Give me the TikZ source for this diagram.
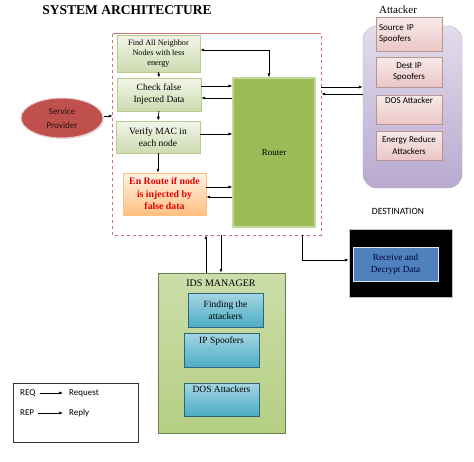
\documentclass[tikz,border=0pt]{standalone}
\usepackage{fontspec}
\setmainfont{Liberation Serif}
\newfontfamily\calfont{Carlito}
\usetikzlibrary{arrows.meta,shadows,shapes.geometric}
\definecolor{gbord}{HTML}{B9CC8E}
\definecolor{router}{HTML}{9BBB59}
\definecolor{spred}{HTML}{C0504D}
\definecolor{purp}{HTML}{B8A9CF}
\definecolor{pinkb}{HTML}{E6B9B8}
\definecolor{blueb}{HTML}{4F81BD}
\definecolor{idsg}{HTML}{B5CF84}
\definecolor{cyanb}{HTML}{4BACC6}
\tikzset{
  gbox/.style={draw=gbord, top color=white!80!gbord, bottom color=gbord!70, align=center, inner sep=1pt, drop shadow={opacity=0.25,shadow xshift=1pt,shadow yshift=-1pt}},
  pbox/.style={draw=pinkb!80!black, top color=white!70!pinkb, bottom color=pinkb!80, align=center, inner sep=1pt, font=\calfont\fontsize{9}{11.5}\selectfont, drop shadow={opacity=0.25,shadow xshift=1pt,shadow yshift=-1pt}},
  cbox/.style={draw=cyanb!60!black, top color=cyanb!50, bottom color=cyanb, align=center, inner sep=1pt, font=\fontsize{9.5}{11.5}\selectfont, drop shadow={opacity=0.3,shadow xshift=1pt,shadow yshift=-1pt}},
  lgd/.style={anchor=west, font=\calfont\fontsize{9}{10}\selectfont, inner sep=1pt},
  arr/.style={-{Latex[length=4pt,width=3pt]}, line width=0.7pt},
  darr/.style={{Latex[length=4pt,width=3pt]}-{Latex[length=4pt,width=3pt]}, line width=0.7pt},
}
\begin{document}
\begin{tikzpicture}[x=1pt,y=-1pt]
\useasboundingbox (0,0) rectangle (474,461);
% title
\node[font=\bfseries\fontsize{13.5}{15}\selectfont] (title) at (127,10) {SYSTEM ARCHITECTURE};
% system dashed box
\node[minimum width=208pt, minimum height=201pt, inner sep=0pt] (sys) at (217,134.5) {};
\draw[spred!80, dashed, line width=0.7pt] (sys.north west) -- (sys.south west) -- (sys.south east) -- (sys.north east);
\draw[spred!80, line width=1.2pt] (sys.north west) -- (sys.north east);
% inner boxes
\node[gbox, minimum width=83pt, minimum height=37pt, font=\fontsize{8.2}{10}\selectfont] (find) at (158.5,53.5) {Find All Neighbor\\Nodes with less\\energy};
\node[gbox, minimum width=84pt, minimum height=33pt, font=\fontsize{9.5}{12}\selectfont] (check) at (159,94.5) {Check false\\Injected Data};
\node[gbox, minimum width=84pt, minimum height=32pt, font=\fontsize{9.5}{12.5}\selectfont] (verify) at (158,137) {Verify MAC in\\each node};
\node[draw=orange!50, top color=orange!10, bottom color=orange!50, align=center, inner sep=1pt, minimum width=83pt, minimum height=42pt, font=\bfseries\fontsize{9.8}{12.5}\selectfont, text=red!90!black, drop shadow={opacity=0.25,shadow xshift=1pt,shadow yshift=-1pt}] (enroute) at (164.5,194) {En Route if node\\is injected by\\false data};
\node[draw=router!60, fill=router, line width=1.2pt, minimum width=82pt, minimum height=149pt, font=\fontsize{9}{10}\selectfont, drop shadow={opacity=0.25,shadow xshift=1pt,shadow yshift=-1pt}] (router) at (274,152.5) {Router};
% service provider
\node[ellipse, draw=white!70!spred, line width=1pt, fill=spred, minimum width=82pt, minimum height=40pt, inner sep=0pt, align=center, font=\calfont\fontsize{9}{14}\selectfont, text=black!80!spred, drop shadow={opacity=0.25,shadow xshift=1pt,shadow yshift=-1pt}] (sp) at (62,118) {Service\\Provider};
\draw[arr] (sp.east |- 0,116) -- (sys.west |- 0,116);
% vertical arrows
\draw[arr] (find.south) -- (check.north);
\draw[arr] (check.south) -- (verify.north);
\draw[arr] (verify.south) -- (enroute.north -| verify.south);
% router arrows
\draw[darr] (find.east |- 0,50) -| (router.north -| 269,0);
\draw[arr] (check.east |- 0,86) -- (router.west |- 0,86);
\draw[arr] (router.west |- 0,98) -- (check.east |- 0,98);
\draw[arr] (verify.east |- 0,134) -- (router.west |- 0,134);
\draw[arr] (enroute.east |- 0,187) -- (router.west |- 0,187);
\draw[arr] (router.west |- 0,197) -- (enroute.east |- 0,197);
% attacker
\node[font=\fontsize{11}{13}\selectfont] (attlbl) at (398,10) {Attacker};
\node[rounded corners=14pt, draw=purp!70!black!60, top color=purp!40, bottom color=purp, minimum width=99pt, minimum height=162pt, inner sep=0pt] (att) at (412.5,107) {};
\node[pbox, minimum width=66pt, minimum height=34pt, text width=60pt, align=left] (src) at (409,34) {Source IP\\Spoofers\vphantom{g}};
\node[pbox, minimum width=66pt, minimum height=30pt] (dst) at (409,72) {Dest IP\\Spoofers};
\node[pbox, minimum width=66pt, minimum height=29pt] (dos) at (409,109.5) {DOS Attacker\\[7pt]};
\node[pbox, minimum width=66pt, minimum height=29pt] (eng) at (409,145.5) {Energy Reduce\\Attackers};
\draw[arr] (sys.east |- 0,87) -- (att.west |- 0,87);
\draw[arr] (att.west |- 0,94) -- (sys.east |- 0,94);
% destination
\node[font=\calfont\fontsize{9.5}{10}\selectfont] (destlbl) at (398,211) {DESTINATION};
\node[draw=gray!50, fill=black, minimum width=103pt, minimum height=68pt, inner sep=0pt, drop shadow={opacity=0.3,shadow xshift=1pt,shadow yshift=-1pt}] (blk) at (400.5,263) {};
\node[draw=white!80!blueb, line width=1pt, fill=blueb, minimum width=85pt, minimum height=34pt, align=center, inner sep=0pt, font=\fontsize{9.2}{12}\selectfont, text=black!80!blue] (recv) at (395.5,264) {Receive and\\Decrypt Data};
\draw[arr] (sys.south -| 302,0) |- (blk.west |- 0,260);
% IDS manager
\node[draw=idsg!60!black, top color=idsg!70, bottom color=idsg, minimum width=127pt, minimum height=160pt, inner sep=0pt, drop shadow={opacity=0.3,shadow xshift=1pt,shadow yshift=-1pt}] (ids) at (221.5,353) {};
\node[font=\fontsize{10}{11}\selectfont] (idslbl) at (221,283) {IDS MANAGER};
\node[cbox, minimum width=75pt, minimum height=34pt] (fnd) at (225.5,310) {Finding the\\attackers};
\node[cbox, minimum width=75pt, minimum height=34pt] (ips) at (221.5,350) {IP Spoofers\\[9pt]};
\node[cbox, minimum width=75pt, minimum height=33pt] (dosa) at (221.5,399.5) {DOS Attackers\\[9pt]};
\draw[arr] (ids.north -| 206,0) -- (sys.south -| 206,0);
\draw[arr] (sys.south -| 221,0) -- (ids.north -| 221,0);
% legend
\node[draw=black!80, minimum width=125pt, minimum height=59pt, inner sep=0pt] (leg) at (75.5,412.5) {};
\node[lgd] (req) at (19,393) {REQ};
\node[lgd] (reqt) at (68,393) {Request};
\node[lgd] (rep) at (19,413) {REP};
\node[lgd] (rept) at (68,413) {Reply};
\draw[arr, line width=0.5pt] ([xshift=3pt]req.east) -- ([xshift=-5pt]reqt.west);
\draw[arr, line width=0.5pt] ([xshift=3pt]rep.east) -- ([xshift=-5pt]rept.west);
\end{tikzpicture}
\end{document}
